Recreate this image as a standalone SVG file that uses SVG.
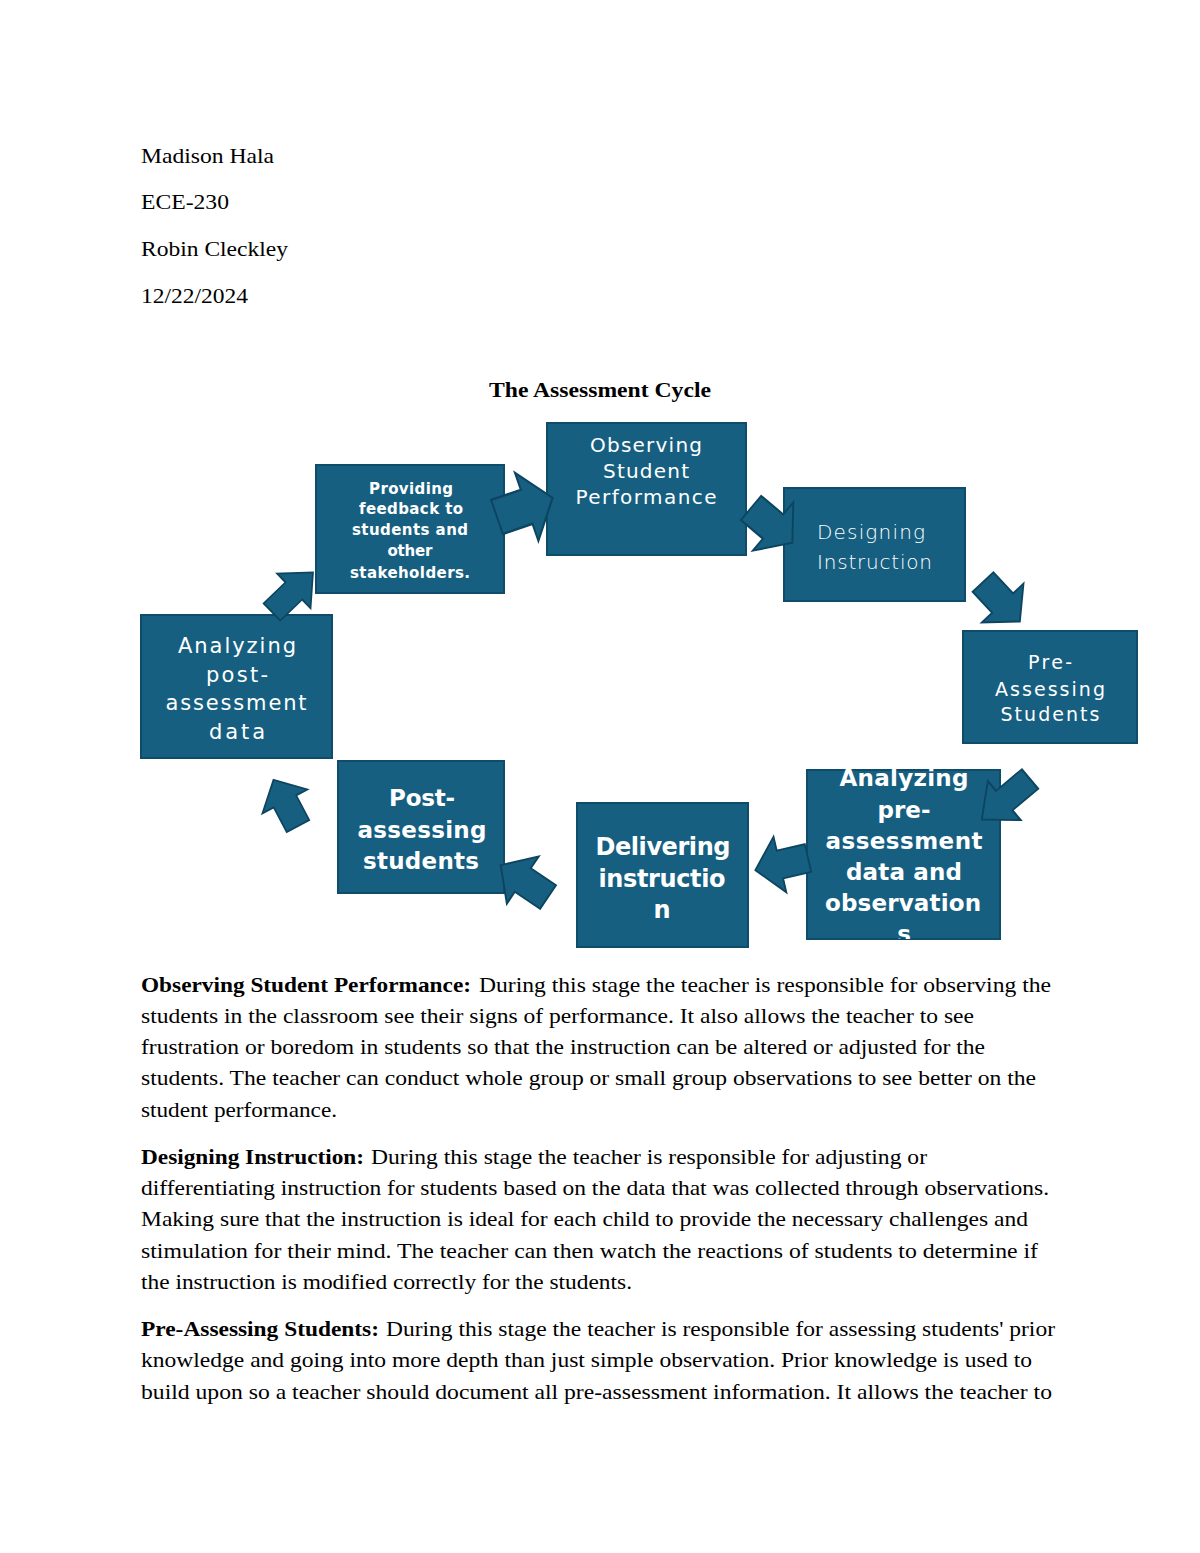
<svg xmlns="http://www.w3.org/2000/svg" xmlns:xlink="http://www.w3.org/1999/xlink" width="1200" height="1553" viewBox="0 0 1200 1553">
<style>
.pg{font-family:"Liberation Serif","Times New Roman",serif;font-size:22px;fill:#000}
.b{font-weight:bold}
.box{fill:#175f81;stroke:#0f4c6a;stroke-width:2}
.t{font-family:"DejaVu Sans",Verdana,sans-serif;fill:#fff;text-anchor:middle}
.arr{fill:#175f81;stroke:#0d4560;stroke-width:2}
</style>
<defs>
<path id="arrow" d="M0,-15 L32,-15 L32,-30 L60,0 L32,30 L32,15 L0,15 Z"/>
<clipPath id="clipPre"><rect x="780" y="740" width="240" height="199"/></clipPath>
</defs>
<rect width="1200" height="1553" fill="#fff"/>

<g id="header">
<text class="pg" x="141" y="163" textLength="133" lengthAdjust="spacingAndGlyphs">Madison Hala</text>
<text class="pg" x="141" y="209" textLength="88" lengthAdjust="spacingAndGlyphs">ECE-230</text>
<text class="pg" x="141" y="256" textLength="147" lengthAdjust="spacingAndGlyphs">Robin Cleckley</text>
<text class="pg" x="141" y="303" textLength="107" lengthAdjust="spacingAndGlyphs">12/22/2024</text>
<text class="pg b" x="489" y="397" textLength="222" lengthAdjust="spacingAndGlyphs">The Assessment Cycle</text>
</g>

<g id="node-observing">
<rect class="box" x="547" y="423" width="199" height="132"/>
<text class="t" font-size="20"><tspan x="646" y="452" textLength="112">Observing</tspan><tspan x="646" y="478" textLength="86">Student</tspan><tspan x="646" y="504" textLength="141">Performance</tspan></text>
</g>

<g id="node-designing">
<rect class="box" x="784" y="488" width="181" height="113"/>
<text class="t" font-size="20" font-weight="300" style="text-anchor:start"><tspan x="817" y="539" textLength="108">Designing</tspan><tspan x="817" y="569" textLength="115">Instruction</tspan></text>
</g>

<g id="node-preassessing">
<rect class="box" x="963" y="631" width="174" height="112"/>
<text class="t" font-size="19"><tspan x="1050" y="669" textLength="44">Pre-</tspan><tspan x="1050" y="696" textLength="110">Assessing</tspan><tspan x="1050" y="721" textLength="99">Students</tspan></text>
</g>

<g id="node-analyzing-pre">
<rect class="box" x="807" y="770" width="193" height="169"/>
<g clip-path="url(#clipPre)">
<text class="t" font-size="23" font-weight="bold"><tspan x="904" y="786" textLength="129">Analyzing</tspan><tspan x="904" y="818" textLength="53">pre-</tspan><tspan x="904" y="849" textLength="157">assessment</tspan><tspan x="904" y="880" textLength="116">data and</tspan><tspan x="903" y="911" textLength="156">observation</tspan><tspan x="904" y="942">s</tspan></text>
</g>
</g>

<g id="node-delivering">
<rect class="box" x="577" y="803" width="171" height="144"/>
<text class="t" font-size="24" font-weight="bold"><tspan x="663" y="855" textLength="135">Delivering</tspan><tspan x="662" y="887" textLength="127">instructio</tspan><tspan x="662" y="918">n</tspan></text>
</g>

<g id="node-post">
<rect class="box" x="338" y="761" width="166" height="132"/>
<text class="t" font-size="23" font-weight="bold"><tspan x="422" y="806" textLength="66">Post-</tspan><tspan x="422" y="838" textLength="129">assessing</tspan><tspan x="421" y="869" textLength="116">students</tspan></text>
</g>

<g id="node-analyzing-post">
<rect class="box" x="141" y="615" width="191" height="143"/>
<text class="t" font-size="21"><tspan x="237" y="653" textLength="118">Analyzing</tspan><tspan x="237" y="682" textLength="62">post-</tspan><tspan x="236" y="710" textLength="141">assessment</tspan><tspan x="237" y="739" textLength="56">data</tspan></text>
</g>

<g id="node-feedback">
<rect class="box" x="316" y="465" width="188" height="128"/>
<text class="t" font-size="15" font-weight="bold"><tspan x="411" y="494" textLength="84">Providing</tspan><tspan x="411" y="514" textLength="104">feedback to</tspan><tspan x="410" y="535" textLength="116">students and</tspan><tspan x="410" y="556" textLength="45">other</tspan><tspan x="410" y="578" textLength="120">stakeholders.</tspan></text>
</g>

<g id="connectors">
<use xlink:href="#arrow" class="arr" transform="translate(497,517) rotate(-19) scale(0.98,1.2)"/>
<use xlink:href="#arrow" class="arr" transform="translate(751,508) rotate(40) scale(0.9,1.05)"/>
<use xlink:href="#arrow" class="arr" transform="translate(983,582) rotate(47) scale(0.9,0.95)"/>
<use xlink:href="#arrow" class="arr" transform="translate(1030,779) rotate(140) scale(1.05,0.85)"/>
<use xlink:href="#arrow" class="arr" transform="translate(808,858) rotate(167) scale(0.9,0.95)"/>
<use xlink:href="#arrow" class="arr" transform="translate(548,897) rotate(214) scale(0.95,0.95)"/>
<use xlink:href="#arrow" class="arr" transform="translate(298,826) rotate(242) scale(0.87,0.85)"/>
<use xlink:href="#arrow" class="arr" transform="translate(272,612) rotate(-44) scale(0.95,0.8)"/>
</g>

<g id="body">
<text class="pg b" x="141" y="992" textLength="330" lengthAdjust="spacingAndGlyphs">Observing Student Performance:</text>
<text class="pg" x="479" y="992" textLength="572" lengthAdjust="spacingAndGlyphs">During this stage the teacher is responsible for observing the</text>
<text class="pg" x="141" y="1023" textLength="833" lengthAdjust="spacingAndGlyphs">students in the classroom see their signs of performance. It also allows the teacher to see</text>
<text class="pg" x="141" y="1054" textLength="844" lengthAdjust="spacingAndGlyphs">frustration or boredom in students so that the instruction can be altered or adjusted for the</text>
<text class="pg" x="141" y="1085" textLength="895" lengthAdjust="spacingAndGlyphs">students. The teacher can conduct whole group or small group observations to see better on the</text>
<text class="pg" x="141" y="1117" textLength="196" lengthAdjust="spacingAndGlyphs">student performance.</text>

<text class="pg b" x="141" y="1164" textLength="223" lengthAdjust="spacingAndGlyphs">Designing Instruction:</text>
<text class="pg" x="371" y="1164" textLength="556" lengthAdjust="spacingAndGlyphs">During this stage the teacher is responsible for adjusting or</text>
<text class="pg" x="141" y="1195" textLength="908" lengthAdjust="spacingAndGlyphs">differentiating instruction for students based on the data that was collected through observations.</text>
<text class="pg" x="141" y="1226" textLength="887" lengthAdjust="spacingAndGlyphs">Making sure that the instruction is ideal for each child to provide the necessary challenges and</text>
<text class="pg" x="141" y="1258" textLength="897" lengthAdjust="spacingAndGlyphs">stimulation for their mind.  The teacher can then watch the reactions of students to determine if</text>
<text class="pg" x="141" y="1289" textLength="491" lengthAdjust="spacingAndGlyphs">the instruction is modified correctly for the students.</text>

<text class="pg b" x="141" y="1336" textLength="238" lengthAdjust="spacingAndGlyphs">Pre-Assessing Students:</text>
<text class="pg" x="386" y="1336" textLength="669" lengthAdjust="spacingAndGlyphs">During this stage the teacher is responsible for assessing students' prior</text>
<text class="pg" x="141" y="1367" textLength="891" lengthAdjust="spacingAndGlyphs">knowledge and going into more depth than just simple observation. Prior knowledge is used to</text>
<text class="pg" x="141" y="1399" textLength="911" lengthAdjust="spacingAndGlyphs">build upon so a teacher should document all pre-assessment information.  It allows the teacher to</text>
</g>
</svg>
